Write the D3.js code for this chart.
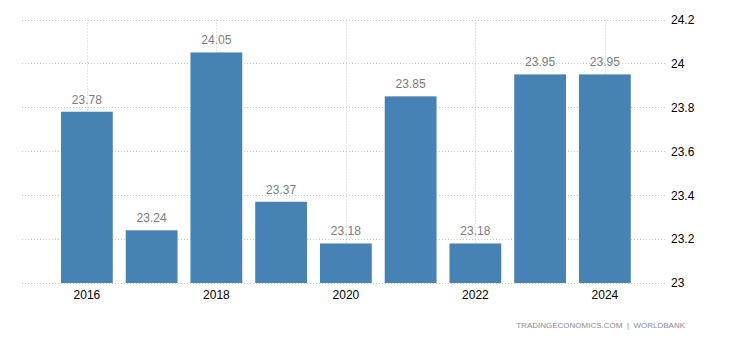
<!DOCTYPE html>
<html>
<head>
<meta charset="utf-8">
<script src="https://cdn.jsdelivr.net/npm/d3@7"></script>
<style>
  body { margin: 0; background: #fff; }
  svg { display: block; font-family: Arial, "Liberation Sans", sans-serif; }
  .grid line { stroke: #c8c8c8; stroke-dasharray: 1,2; }
</style>
</head>
<body>
<svg id="chart" width="730" height="340"></svg>
<script>
var years = [2016, 2017, 2018, 2019, 2020, 2021, 2022, 2023, 2024];
var values = [23.78, 23.24, 24.05, 23.37, 23.18, 23.85, 23.18, 23.95, 23.95];
var yTicks = [23, 23.2, 23.4, 23.6, 23.8, 24, 24.2];
var xTicks = [2016, 2018, 2020, 2022, 2024];
var source = "TRADINGECONOMICS.COM  |  WORLDBANK";

var svg = d3.select("#chart");

var x = d3.scaleBand()
  .domain(years)
  .range([54.5, 637.25])
  .paddingInner(0.2)
  .paddingOuter(0.1);

var y = d3.scaleLinear()
  .domain([23, 24.2])
  .range([283, 19.5]);

// horizontal grid
svg.append("g").attr("class", "grid")
  .selectAll("line").data(yTicks).enter().append("line")
  .attr("x1", 22).attr("x2", 666)
  .attr("y1", function(d) { return Math.round(y(d)) + 0.5; })
  .attr("y2", function(d) { return Math.round(y(d)) + 0.5; });

// vertical grid
svg.append("g").attr("class", "grid")
  .selectAll("line").data(xTicks).enter().append("line")
  .attr("x1", function(d) { return Math.round(x(d) + x.bandwidth() / 2) + 0.5; })
  .attr("x2", function(d) { return Math.round(x(d) + x.bandwidth() / 2) + 0.5; })
  .attr("y1", y(24.2)).attr("y2", y(23));

// bars
svg.append("g").selectAll("rect").data(values).enter().append("rect")
  .attr("x", function(d, i) { return x(years[i]); })
  .attr("width", x.bandwidth())
  .attr("y", function(d) { return y(d); })
  .attr("height", function(d) { return y(23) - y(d); })
  .attr("fill", "#4682b4");

// value labels
svg.append("g").selectAll("text").data(values).enter().append("text")
  .attr("x", function(d, i) { return x(years[i]) + x.bandwidth() / 2; })
  .attr("y", function(d) { return y(d) - 8; })
  .attr("text-anchor", "middle")
  .attr("font-size", "12px")
  .attr("fill", "#7b7b7b")
  .text(function(d) { return d.toFixed(2); });

// right axis
var yAxis = d3.axisRight(y).tickValues(yTicks).tickSize(0).tickPadding(0)
  .tickFormat(function(d) { return d3.format("~g")(d); });
var gy = svg.append("g").attr("transform", "translate(671,0)").call(yAxis);
gy.select(".domain").remove();
gy.selectAll("text").attr("font-size", "12px").attr("fill", "#000").attr("font-family", null);

// bottom axis
var xAxis = d3.axisBottom(x).tickValues(xTicks).tickSize(0).tickPadding(0)
  .tickFormat(d3.format("d"));
var gx = svg.append("g").attr("transform", "translate(0,290)").call(xAxis);
gx.select(".domain").remove();
gx.selectAll("text").attr("font-size", "12px").attr("fill", "#000").attr("font-family", null);

// source
svg.append("text")
  .attr("x", 685).attr("y", 328)
  .attr("text-anchor", "end")
  .attr("font-size", "8px")
  .attr("fill", "#8a8a9a")
  .attr("xml:space", "preserve")
  .style("white-space", "pre")
  .text(source);
</script>
</body>
</html>
